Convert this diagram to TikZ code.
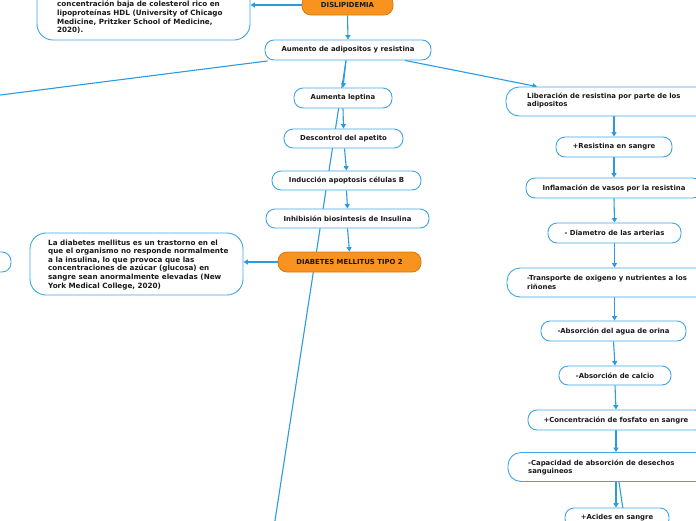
\documentclass[tikz,border=0pt]{standalone}
\usepackage{fontspec}
\setmainfont{DejaVu Sans}
\usetikzlibrary{arrows.meta,backgrounds}
\definecolor{lineblue}{HTML}{2B9BE0}
\definecolor{boxblue}{HTML}{3DA5E6}
\definecolor{orangefill}{HTML}{F7931E}
\definecolor{orangeedge}{HTML}{D97A10}
\begin{document}
\begin{tikzpicture}[x=1pt,y=-1pt,
  every node/.style={font=\fontsize{6.9}{8.6}\selectfont\bfseries, text=black!90},
  pill/.style={draw=boxblue, line width=0.9pt, fill=white, rounded corners=9pt, inner sep=0pt, minimum height=20pt},
  tall/.style={draw=boxblue, line width=0.9pt, fill=white, rounded corners=13pt, inner sep=0pt, minimum height=29pt},
  note/.style={draw=boxblue, line width=0.9pt, fill=white, rounded corners=16pt, inner sep=0pt},
  mainbox/.style={draw=orangeedge, line width=0.8pt, fill=orangefill, rounded corners=9pt, inner sep=0pt, minimum height=20pt},
  txt/.style={align=left, inner sep=0pt, anchor=north west},
  notetxt/.style={txt, font=\fontsize{7.2}{8.6}\selectfont\bfseries},
  conn/.style={draw=lineblue, line width=1.1pt},
  arr/.style={conn, -{Triangle[width=5pt,length=4.5pt]}}
]
\useasboundingbox (0,0) rectangle (696,520);
% left column notes
\node[note, minimum width=213pt, minimum height=90pt] (n1) at (143.5,-5) {};
\node[notetxt] (n1t) at (57,1) {concentración baja de colesterol rico en\\lipoproteínas HDL (University of Chicago\\Medicine, Pritzker School of Medicine,\\2020).};
\node[note, minimum width=213pt, minimum height=62pt] (n2) at (136.5,264) {};
\node[notetxt] (n2t) at (48,239.5) {La diabetes mellitus es un trastorno en el\\que el organismo no responde normalmente\\a la insulina, lo que provoca que las\\concentraciones de azúcar (glucosa) en\\sangre sean anormalmente elevadas (New\\York Medical College, 2020)};
\node[pill, minimum width=71pt] (stub) at (-24.5,262) {};
% center column
\node[mainbox, minimum width=91pt] (dis) at (347.5,5) {DISLIPIDEMIA};
\node[pill, minimum width=166pt] (aum) at (348,50) {Aumento de adipositos y resistina};
\node[pill, minimum width=98pt] (lep) at (343,98) {Aumenta leptina};
\node[pill, minimum width=119pt, minimum height=19pt] (des) at (343.5,138.5) {Descontrol del apetito};
\node[pill, minimum width=149pt, minimum height=19pt] (ind) at (346.5,180.5) {Inducción apoptosis células B};
\node[pill, minimum width=163pt, minimum height=19pt] (inh) at (347.5,218.5) {Inhibisión biosintesis de Insulina};
\node[mainbox, minimum width=143pt] (dm2) at (349.5,262) {DIABETES MELLITUS TIPO 2};
% right column
\node[tall, minimum width=224pt] (lib) at (618,101.5) {};
\node[txt] (libt) at (527,92.5) {Liberación de resistina por parte de los\\adipositos};
\node[pill, minimum width=116pt] (res) at (614,147) {+Resistina en sangre};
\node[pill, minimum width=176pt] (inf) at (614,188) {Inflamación de vasos por la resistina};
\node[pill, minimum width=133pt] (dia) at (614.5,233) {- Diametro de las arterias};
\node[tall, minimum width=223pt] (tra) at (618.5,282.5) {};
\node[txt] (trat) at (527,275) {-Transporte de oxigeno y nutrientes a los\\riñones};
\node[pill, minimum width=145pt] (agu) at (613.5,331) {-Absorción del agua de orina};
\node[pill, minimum width=112pt, minimum height=19pt] (cal) at (615,375.5) {-Absorción de calcio};
\node[pill, minimum width=176pt] (fos) at (616,420) {+Concentración de fosfato en sangre};
\node[tall, minimum width=232pt] (cap) at (624,467) {};
\node[txt] (capt) at (528,459.5) {-Capacidad de absorción de desechos\\sanguineos};
\node[pill, minimum width=104pt] (aci) at (617,518) {+Acides en sangre};
% free ends
\coordinate (farleft) at (-10,96.3);
\coordinate (farbottom) at (272,540);
\coordinate (capdown) at (626,530);
% connectors
\begin{pgfonlayer}{background}
\draw[conn] ([shift={(3pt,-0.5pt)}]aum.south west) -- (farleft);
\draw[conn] ([xshift=-2pt]aum.south) -- (farbottom);
\draw[conn] ([xshift=-5pt]cap.south) -- (capdown);
\draw[arr] (dis.west) -- (n1.east |- dis.west);
\draw[arr] (dis.south) -- (aum.north);
\draw[arr] ([xshift=-2pt]aum.south) -- (lep.north);
\draw[arr] ([xshift=57pt]aum.south) -- ([xshift=-81pt]lib.north);
\draw[arr] (lep.south) -- (des.north);
\draw[arr] ([xshift=1pt]des.south) -- (ind.north);
\draw[arr] (ind.south) -- (inh.north);
\draw[arr] (inh.south) -- (dm2.north);
\draw[arr] (dm2.west) -- (n2.east |- dm2.west);
\draw[arr] (res.north |- lib.south) -- (res.north);
\draw[arr] (res.south) -- (inf.north);
\draw[arr] (inf.south) -- (dia.north);
\draw[arr] (dia.south) -- (dia.south |- tra.north);
\draw[arr] (dia.south |- tra.south) -- (agu.north -| dia.south);
\draw[arr] (agu.south) -- (cal.north);
\draw[arr] (cal.south) -- (fos.north);
\draw[arr] (fos.south) -- (fos.south |- cap.north);
\draw[arr] (fos.south |- cap.south) -- (aci.north -| fos.south);
\end{pgfonlayer}
\end{tikzpicture}
\end{document}
